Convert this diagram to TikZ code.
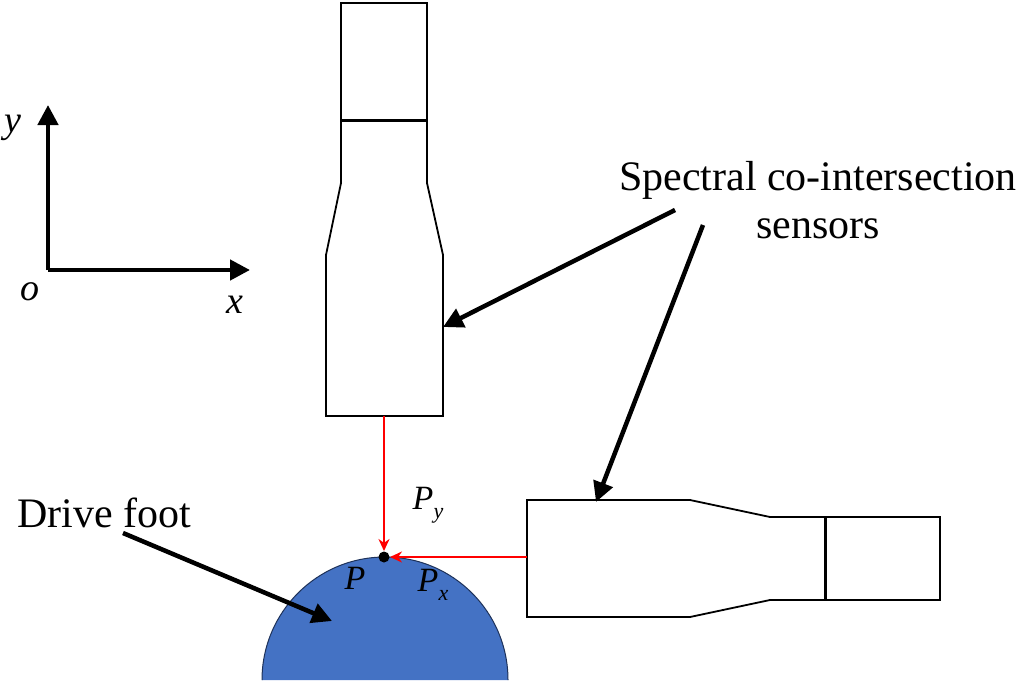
\documentclass[tikz,border=0pt]{standalone}
\usepackage{fontspec}
\setmainfont{Liberation Serif}
\usetikzlibrary{arrows.meta}
\begin{document}
\begin{tikzpicture}[x=1pt,y=-1pt,
  body/.style={draw=black,line width=1.8pt},
  ptr/.style={draw=black,line width=4.5pt,-{Triangle[length=20pt,width=20pt]}},
  ray/.style={draw=red,line width=2.2pt,-{Stealth[length=12pt,width=11pt]}},
  lab/.style={font=\fontsize{42}{46}\selectfont,inner sep=0pt},
  ilab/.style={font=\fontsize{38}{40}\selectfont\itshape,inner sep=0pt}]
\useasboundingbox (0,0) rectangle (1025,680);
% axes
\coordinate (O) at (48,270);
\coordinate (Y) at (48,105);
\coordinate (X) at (250,270);
\draw[line width=4.5pt,-{Triangle[length=20pt,width=20pt]}] (O) -- (Y);
\draw[line width=4.5pt,-{Triangle[length=20pt,width=20pt]}] (O) -- (X);
\node[ilab] (ly) at (13,128) {y};
\node[ilab] (lo) at (30,292) {o};
\node[ilab] (lx) at (235,305) {x};
% vertical sensor
\draw[body,fill=white] (341,3) rectangle (427,120);
\draw[body,fill=white] (341,120) -- (341,183) -- (326,255) -- (326,416) -- (443,416) -- (443,255) -- (427,183) -- (427,120);
\draw[line width=3pt] (341,120) -- (427,120);
\coordinate (vs) at (384,416);
% horizontal sensor
\draw[body,fill=white] (527,500) -- (690,500) -- (770,517) -- (940,517) -- (940,600) -- (770,600) -- (690,617) -- (527,617) -- cycle;
\draw[line width=3pt] (825,517) -- (825,600);
\coordinate (hs) at (527,557);
% dome
\fill[fill={rgb,255:red,68;green,114;blue,196},draw={rgb,255:red,30;green,50;blue,90},line width=1pt] (262,680) arc (180:360:123);
% point P
\coordinate (P) at (384,557);
\draw[ray] (vs) -- (384,551);
\draw[ray] (hs) -- (390,557);
\fill (P) circle (5.5);
\node[ilab,font=\fontsize{34}{36}\selectfont\itshape] (lp) at (355,578) {P};
\node[ilab,font=\fontsize{34}{36}\selectfont\itshape] (lpy) at (428,505) {P\raisebox{-9pt}{\fontsize{22}{22}\selectfont y}};
\node[ilab,font=\fontsize{34}{36}\selectfont\itshape] (lpx) at (433,585) {P\raisebox{-9pt}{\fontsize{22}{22}\selectfont x}};
% labels
\node[lab,align=center] (spec) at (818,200) {Spectral co-intersection\\[2pt]sensors};
\node[lab] (drive) at (104,513) {Drive foot};
\coordinate (a1s) at (675,210);
\coordinate (a1e) at (443,327);
\coordinate (a2s) at (703,225);
\coordinate (a2e) at (596,502);
\coordinate (a3s) at (123,533);
\coordinate (a3e) at (332,621);
\draw[ptr] (a1s) -- (a1e);
\draw[ptr] (a2s) -- (a2e);
\draw[ptr] (a3s) -- (a3e);
\end{tikzpicture}
\end{document}
